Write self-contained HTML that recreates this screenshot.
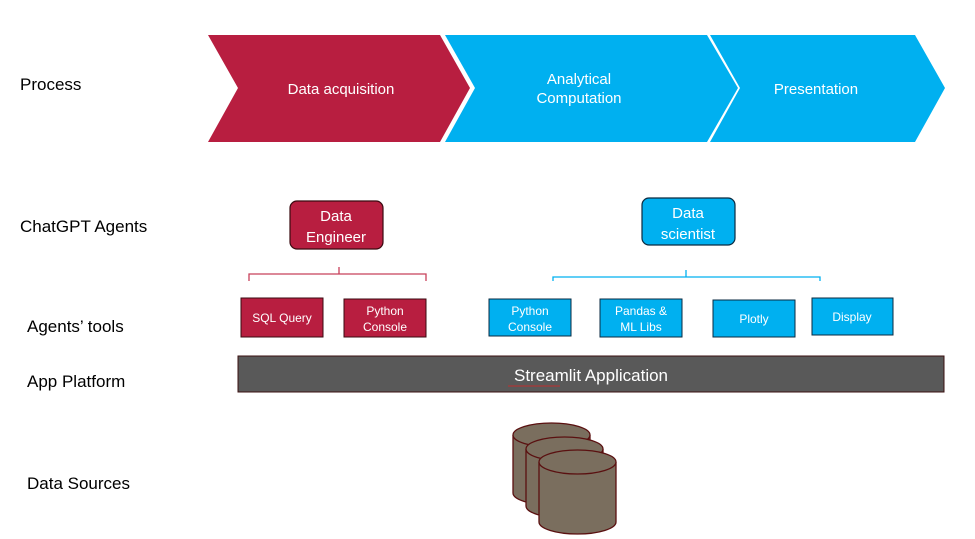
<!DOCTYPE html>
<html><head><style>body{margin:0;background:#fff}svg{display:block}text{font-family:"Liberation Sans",sans-serif}</style></head><body>
<svg width="975" height="539" viewBox="0 0 975 539" xmlns="http://www.w3.org/2000/svg">
<g font-size="17" fill="#000">
<text x="20" y="90">Process</text>
<text x="20" y="232">ChatGPT Agents</text>
<text x="27" y="332">Agents’ tools</text>
<text x="27" y="387">App Platform</text>
<text x="27" y="489">Data Sources</text>
</g>
<polygon points="208,35 440,35 470,88 440,142 208,142 238,88" fill="#B81E40"/>
<polygon points="445,35 707,35 738,88 707,142 445,142 475,88" fill="#00B0F0"/>
<polygon points="710,35 915,35 945,88 915,142 710,142 740,88" fill="#00B0F0"/>
<g fill="#fff" font-size="15" text-anchor="middle">
<text x="341" y="94">Data acquisition</text>
<text x="579" y="84">Analytical</text>
<text x="579" y="103">Computation</text>
<text x="816" y="94">Presentation</text>
</g>
<rect x="290" y="201" width="93" height="48" rx="7" fill="#B81E40" stroke="#3a0a10" stroke-width="1.2"/>
<text x="336" y="221" fill="#fff" font-size="15" text-anchor="middle">Data</text>
<text x="336" y="242" fill="#fff" font-size="15" text-anchor="middle">Engineer</text>
<rect x="642" y="198" width="93" height="47" rx="7" fill="#00B0F0" stroke="#0a2a40" stroke-width="1.2"/>
<text x="688" y="218" fill="#fff" font-size="15" text-anchor="middle">Data</text>
<text x="688" y="239" fill="#fff" font-size="15" text-anchor="middle">scientist</text>
<path d="M249,281 V274 H426 V281 M339,274 V267" fill="none" stroke="#C8405A" stroke-width="1.3"/>
<path d="M553,281 V277 H820 V281 M686,277 V270" fill="none" stroke="#00B0F0" stroke-width="1.3"/>
<g stroke="#3a0a10" stroke-width="1" fill="#B81E40">
<rect x="241" y="298" width="82" height="39"/>
<rect x="344" y="299" width="82" height="38"/>
</g>
<g stroke="#0a2a40" stroke-width="1" fill="#00B0F0">
<rect x="489" y="299" width="82" height="37"/>
<rect x="600" y="299" width="82" height="38"/>
<rect x="713" y="300" width="82" height="37"/>
<rect x="812" y="298" width="81" height="37"/>
</g>
<g fill="#fff" font-size="12" text-anchor="middle">
<text x="282" y="322">SQL Query</text>
<text x="385" y="315">Python</text><text x="385" y="331">Console</text>
<text x="530" y="315">Python</text><text x="530" y="331">Console</text>
<text x="641" y="315">Pandas &amp;</text><text x="641" y="331">ML Libs</text>
<text x="754" y="323">Plotly</text>
<text x="852" y="321">Display</text>
</g>
<rect x="238" y="356" width="706" height="36" fill="#595959" stroke="#3a1010"/>
<text x="591" y="381" fill="#fff" font-size="17" text-anchor="middle">Streamlit Application</text>
<line x1="508" y1="386" x2="560" y2="386" stroke="#c03030" stroke-width="1"/>
<g fill="#7A6E5E" stroke="#5A1010" stroke-width="1.3">
<path d="M513,435 V493 A38.5,12 0 0 0 590,493 V435"/><ellipse cx="551.5" cy="435" rx="38.5" ry="12"/>
<path d="M526,449 V506 A38.5,12 0 0 0 603,506 V449"/><ellipse cx="564.5" cy="449" rx="38.5" ry="12"/>
<path d="M539,462 V522 A38.5,12 0 0 0 616,522 V462"/><ellipse cx="577.5" cy="462" rx="38.5" ry="12"/>
</g>
</svg>
</body></html>
